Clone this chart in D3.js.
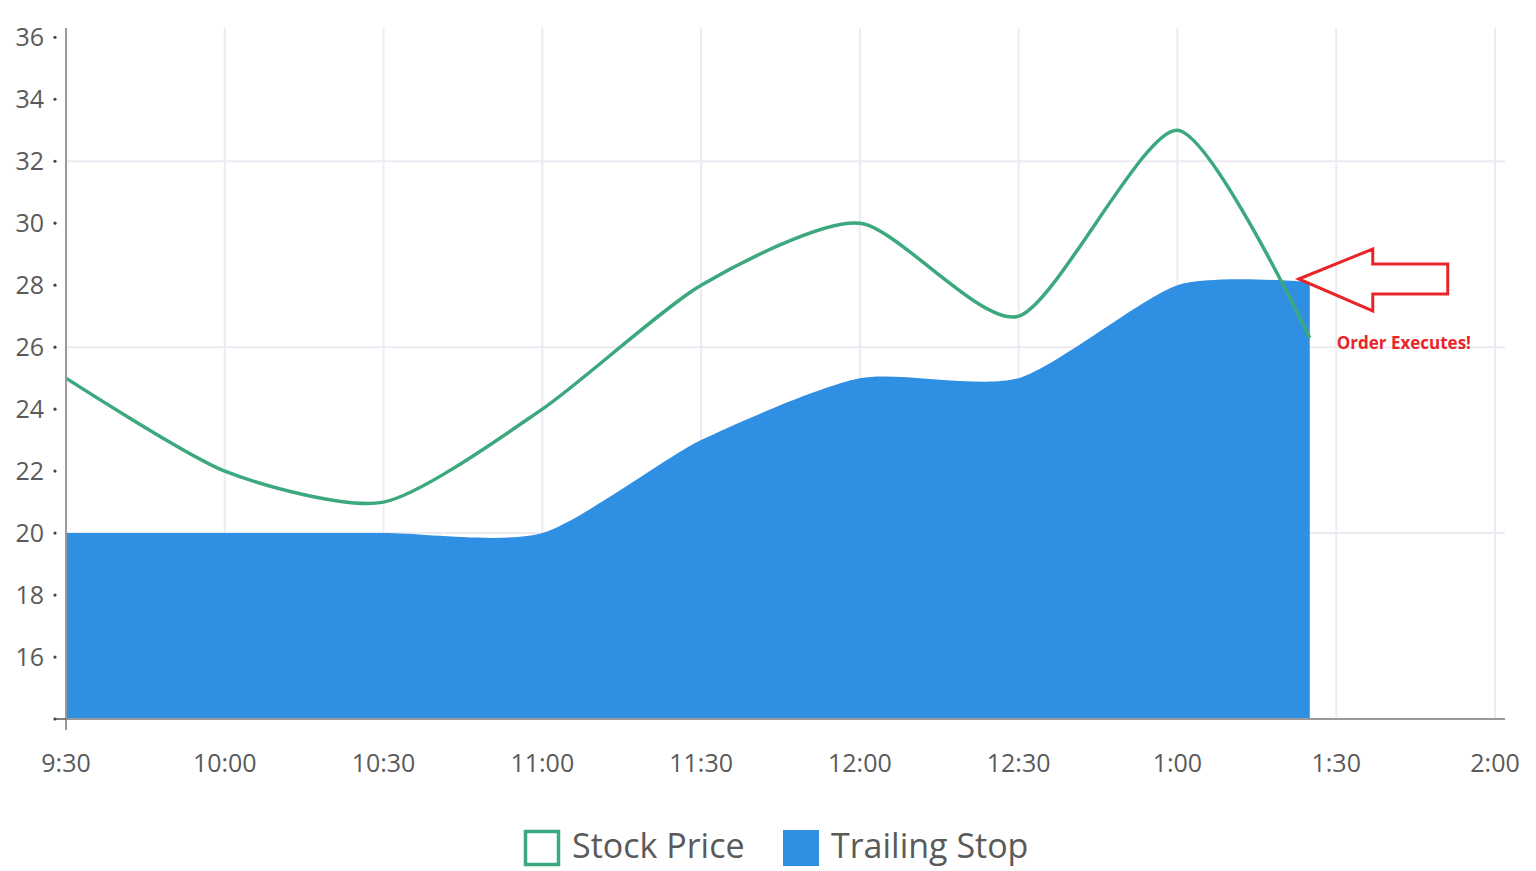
<!DOCTYPE html>
<html>
<head>
<meta charset="utf-8">
<script src="https://cdn.jsdelivr.net/npm/d3@7"></script>
<style>
  html, body { margin: 0; padding: 0; background: #fff; }
  svg { display: block; }
  text { font-family: "Open Sans", "DejaVu Sans", sans-serif; }
</style>
</head>
<body>
<svg id="chart" width="1536" height="871"></svg>
<script>
// ---- data ----
const times = ["9:30", "10:00", "10:30", "11:00", "11:30", "12:00", "12:30", "13:00", "13:25"];
const stockPrice = [25, 22, 21, 24, 28, 30, 27, 33, 26.3];
const trailingStop = [20, 20, 20, 20, 23, 25, 25, 28, 28.1];
const yTicks = [14, 16, 18, 20, 22, 24, 26, 28, 30, 32, 34, 36];
const yGrid = [20, 26, 32];
const xTickTimes = ["9:30", "10:00", "10:30", "11:00", "11:30", "12:00", "12:30", "13:00", "13:30", "14:00"];
const seriesNames = ["Stock Price", "Trailing Stop"];
const annotationText = "Order Executes!";
const annotationLevel = 28.2;

// ---- setup ----
const parse = d3.timeParse("%Y-%m-%d %H:%M");
const toDate = t => parse("2020-01-02 " + t);
const svg = d3.select("#chart");

const x = d3.scaleTime()
  .domain([toDate("9:30"), toDate("14:00")])
  .range([66, 1495]);
const y = d3.scaleLinear()
  .domain([14, 36.3])
  .range([719, 28]);

const gridColor = "#eeeaf3";
const textColor = "#5a5a5a";
const green = "#3ba87d";
const blue = "#2f8fe3";
const red = "#e8262a";
const curve = d3.curveCardinal.tension(0.3);

// vertical grid
svg.append("g").selectAll("line")
  .data(xTickTimes.map(toDate))
  .join("line")
  .attr("x1", d => x(d)).attr("x2", d => x(d))
  .attr("y1", y(36.3)).attr("y2", y(14))
  .attr("stroke", gridColor).attr("stroke-width", 2);

// horizontal grid
svg.append("g").selectAll("line")
  .data(yGrid)
  .join("line")
  .attr("x1", x(toDate("9:30"))).attr("x2", x(toDate("14:00")) + 10)
  .attr("y1", d => y(d)).attr("y2", d => y(d))
  .attr("stroke", gridColor).attr("stroke-width", 2);

// area: trailing stop
const stopData = times.map((t, i) => ({ t: toDate(t), v: trailingStop[i] }));
const priceData = times.map((t, i) => ({ t: toDate(t), v: stockPrice[i] }));

svg.append("path")
  .datum(stopData)
  .attr("fill", blue)
  .attr("d", d3.area()
    .curve(curve)
    .x(d => x(d.t))
    .y0(y(14))
    .y1(d => y(d.v)));

// line: stock price
svg.append("path")
  .datum(priceData)
  .attr("fill", "none")
  .attr("stroke", green)
  .attr("stroke-width", 3.5)
  .attr("stroke-linejoin", "round")
  .attr("d", d3.line()
    .curve(curve)
    .x(d => x(d.t))
    .y(d => y(d.v)));

// axes lines
svg.append("line")
  .attr("x1", x(toDate("9:30"))).attr("x2", x(toDate("9:30")))
  .attr("y1", y(36.3)).attr("y2", y(14))
  .attr("stroke", "#9a9a9a").attr("stroke-width", 2);
svg.append("line")
  .attr("x1", x(toDate("9:30"))).attr("x2", x(toDate("14:00")) + 10)
  .attr("y1", y(14)).attr("y2", y(14))
  .attr("stroke", "#9a9a9a").attr("stroke-width", 2);
// small corner tick
svg.append("line")
  .attr("x1", 55).attr("x2", x(toDate("9:30")))
  .attr("y1", y(14)).attr("y2", y(14))
  .attr("stroke", "#555").attr("stroke-width", 1.5);
svg.append("line")
  .attr("x1", x(toDate("9:30"))).attr("x2", x(toDate("9:30")))
  .attr("y1", y(14)).attr("y2", y(14) + 11)
  .attr("stroke", "#777").attr("stroke-width", 1.5);

// y ticks
const yt = svg.append("g").selectAll("g").data(yTicks).join("g")
  .attr("transform", d => `translate(0,${y(d)})`);
yt.append("circle").attr("cx", 55).attr("cy", 0).attr("r", 1.6).attr("fill", "#444");
yt.filter(d => d !== 14).append("text")
  .attr("x", 44).attr("y", 0).attr("dy", "0.36em")
  .attr("text-anchor", "end")
  .attr("font-size", 25)
  .attr("fill", textColor)
  .text(d => d);

// x ticks
const fmt = d3.timeFormat("%-I:%M");
svg.append("g").selectAll("text")
  .data(xTickTimes.map(toDate))
  .join("text")
  .attr("x", d => x(d)).attr("y", 772)
  .attr("text-anchor", "middle")
  .attr("font-size", 25)
  .attr("fill", textColor)
  .text(d => fmt(d));

// annotation arrow
const endT = toDate(times[times.length - 1]);
const tipX = x(endT) - 11, tipY = y(annotationLevel);
const arrow = [
  [tipX, tipY],
  [tipX + 74, tipY - 30],
  [tipX + 74, tipY - 15],
  [tipX + 149, tipY - 15],
  [tipX + 149, tipY + 15],
  [tipX + 74, tipY + 15],
  [tipX + 74, tipY + 32]
];
svg.append("polygon")
  .attr("points", arrow.map(p => p.join(",")).join(" "))
  .attr("fill", "none")
  .attr("stroke", red)
  .attr("stroke-width", 3);
svg.append("text")
  .attr("x", tipX + 38).attr("y", 349)
  .attr("font-size", 17)
  .attr("font-weight", "bold")
  .attr("fill", red)
  .text(annotationText);

// legend
const leg = svg.append("g");
leg.append("rect")
  .attr("x", 525.5).attr("y", 831.5).attr("width", 33).attr("height", 33)
  .attr("fill", "none").attr("stroke", green).attr("stroke-width", 3.5);
leg.append("text")
  .attr("x", 572).attr("y", 858)
  .attr("font-size", 34).attr("fill", textColor)
  .text(seriesNames[0]);
leg.append("rect")
  .attr("x", 783).attr("y", 830).attr("width", 36).attr("height", 36)
  .attr("fill", blue);
leg.append("text")
  .attr("x", 831).attr("y", 858)
  .attr("font-size", 34).attr("fill", textColor)
  .text(seriesNames[1]);
</script>
</body>
</html>
